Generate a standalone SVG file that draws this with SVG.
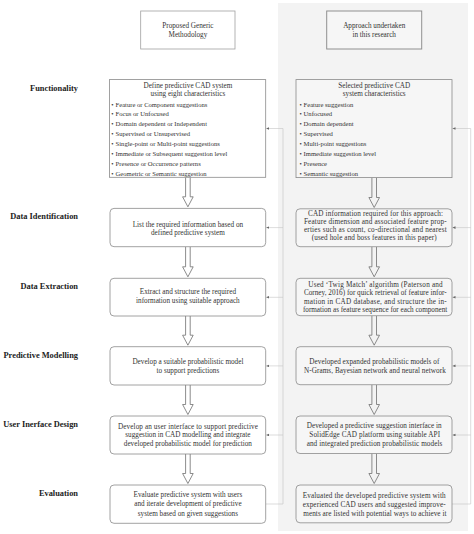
<svg xmlns="http://www.w3.org/2000/svg" width="474" height="534" viewBox="0 0 474 534">
<style>
.bg{fill:#ffffff}
.panel{fill:#f3f3f3}
.box{fill:#ffffff;stroke:#8a8a8a;stroke-width:0.8}
.rbox{fill:#f6f6f6;stroke:#8a8a8a;stroke-width:0.8}
.hbox{fill:#ffffff;stroke:#a0a0a0;stroke-width:0.8}
.rhbox{fill:#f6f6f6;stroke:#909090;stroke-width:1}
.t{font-family:"Liberation Serif","Times New Roman",serif;font-size:7.2px;fill:#333;text-anchor:middle}
.b{font-family:"Liberation Serif","Times New Roman",serif;font-size:6.6px;fill:#333}
.lab{font-family:"Liberation Serif","Times New Roman",serif;font-size:8.4px;font-weight:bold;fill:#222;text-anchor:end}
.dbl{fill:none;stroke:#6f6f6f;stroke-width:0.8;stroke-linejoin:miter}
.fb{fill:none;stroke:#c4c4c4;stroke-width:0.6}
.fba{fill:none;stroke:#c4c4c4;stroke-width:0.6;marker-end:url(#ah)}
</style>
<defs>
<marker id="ah" markerUnits="userSpaceOnUse" markerWidth="4" markerHeight="4" refX="3" refY="1.3" orient="auto">
<path d="M0,0 L3,1.3 L0,2.6 Z" fill="#666"/>
</marker>
</defs>
<rect class="bg" x="0" y="0" width="474" height="534"/>
<rect class="panel" x="278" y="3" width="190" height="528"/>

<g id="header-left">
<rect class="hbox" x="140.7" y="11" width="94.3" height="38"/>
<text class="t" x="187.9" y="27.5">Proposed Generic</text>
<text class="t" x="187.9" y="36.5">Methodology</text>
</g>
<g id="header-right">
<rect class="rhbox" x="326.7" y="11" width="95" height="38"/>
<text class="t" x="374.2" y="27.5">Approach undertaken</text>
<text class="t" x="374.2" y="36.5">in this research</text>
</g>

<g id="row-labels">
<text class="lab" x="78" y="91.2">Functionality</text>
<text class="lab" x="78" y="219">Data Identification</text>
<text class="lab" x="78" y="288.7">Data Extraction</text>
<text class="lab" x="78" y="358">Predictive Modelling</text>
<text class="lab" x="78" y="427.3">User Inerface Design</text>
<text class="lab" x="78" y="496.3">Evaluation</text>
</g>

<g id="connectors">
<!-- hollow double arrows, left column -->
<path class="dbl" d="M185.6,177.3 V196.8 H182.6 L187.9,206.8 L193.2,196.8 H190.2 V177.3"/>
<path class="dbl" d="M185.6,246.7 V266.8 H182.6 L187.9,276.8 L193.2,266.8 H190.2 V246.7"/>
<path class="dbl" d="M185.6,316 V335.2 H182.6 L187.9,345.2 L193.2,335.2 H190.2 V316"/>
<path class="dbl" d="M185.6,385 V404.5 H182.6 L187.9,414.5 L193.2,404.5 H190.2 V385"/>
<path class="dbl" d="M185.6,454 V473.5 H182.6 L187.9,483.5 L193.2,473.5 H190.2 V454"/>
<!-- hollow double arrows, right column -->
<path class="dbl" d="M371.9,177.7 V197.5 H368.9 L374.2,207.5 L379.5,197.5 H376.5 V177.7"/>
<path class="dbl" d="M371.9,246.7 V266.8 H368.9 L374.2,276.8 L379.5,266.8 H376.5 V246.7"/>
<path class="dbl" d="M371.9,315.7 V335.2 H368.9 L374.2,345.2 L379.5,335.2 H376.5 V315.7"/>
<path class="dbl" d="M371.9,384.7 V404.5 H368.9 L374.2,414.5 L379.5,404.5 H376.5 V384.7"/>
<path class="dbl" d="M371.9,453.5 V473.5 H368.9 L374.2,483.5 L379.5,473.5 H376.5 V453.5"/>
<!-- feedback loop, left column -->
<path class="fb" d="M265.7,504 H283 V128.5"/>
<line class="fba" x1="283" y1="128.5" x2="266.2" y2="128.5"/>
<line class="fba" x1="283" y1="227.6" x2="266.2" y2="227.6"/>
<line class="fba" x1="283" y1="297.3" x2="266.2" y2="297.3"/>
<line class="fba" x1="283" y1="365.9" x2="266.2" y2="365.9"/>
<line class="fba" x1="283" y1="435" x2="266.2" y2="435"/>
<!-- feedback loop, right column -->
<path class="fb" d="M452,504 H470.7 V128.5"/>
<line class="fba" x1="470.7" y1="128.5" x2="452.5" y2="128.5"/>
<line class="fba" x1="470.7" y1="227.6" x2="452.5" y2="227.6"/>
<line class="fba" x1="470.7" y1="297.3" x2="452.5" y2="297.3"/>
<line class="fba" x1="470.7" y1="365.9" x2="452.5" y2="365.9"/>
<line class="fba" x1="470.7" y1="435" x2="452.5" y2="435"/>
</g>

<g id="left-functionality">
<rect class="box" x="109.5" y="79.6" width="156.2" height="97.7"/>
<text class="t" x="187.9" y="87.6">Define predictive CAD system</text>
<text class="t" x="187.9" y="95.9">using eight characteristics</text>
<text class="b"><tspan x="111.3" y="106.5">•</tspan><tspan x="115.6">Feature or Component suggestions</tspan></text>
<text class="b"><tspan x="111.3" y="116.4">•</tspan><tspan x="115.6">Focus or Unfocused</tspan></text>
<text class="b"><tspan x="111.3" y="126.3">•</tspan><tspan x="115.6">Domain dependent or Independent</tspan></text>
<text class="b"><tspan x="111.3" y="136.2">•</tspan><tspan x="115.6">Supervised or Unsupervised</tspan></text>
<text class="b"><tspan x="111.3" y="146.1">•</tspan><tspan x="115.6">Single-point or Multi-point suggestions</tspan></text>
<text class="b"><tspan x="111.3" y="156">•</tspan><tspan x="115.6">Immediate or Subsequent suggestion level</tspan></text>
<text class="b"><tspan x="111.3" y="165.9">•</tspan><tspan x="115.6">Presence or Occurrence patterns</tspan></text>
<text class="b"><tspan x="111.3" y="175.7">•</tspan><tspan x="115.6">Geometric or Semantic suggestion</tspan></text>
</g>

<g id="right-functionality">
<rect class="rbox" x="296" y="79.6" width="156" height="98"/>
<text class="t" x="374.2" y="87.6">Selected predictive CAD</text>
<text class="t" x="374.2" y="95.9">system characteristics</text>
<text class="b"><tspan x="299.6" y="106.5">•</tspan><tspan x="303.6">Feature suggestion</tspan></text>
<text class="b"><tspan x="299.6" y="116.4">•</tspan><tspan x="303.6">Unfocused</tspan></text>
<text class="b"><tspan x="299.6" y="126.3">•</tspan><tspan x="303.6">Domain dependent</tspan></text>
<text class="b"><tspan x="299.6" y="136.2">•</tspan><tspan x="303.6">Supervised</tspan></text>
<text class="b"><tspan x="299.6" y="146.1">•</tspan><tspan x="303.6">Multi-point suggestions</tspan></text>
<text class="b"><tspan x="299.6" y="156">•</tspan><tspan x="303.6">Immediate suggestion level</tspan></text>
<text class="b"><tspan x="299.6" y="165.9">•</tspan><tspan x="303.6">Presence</tspan></text>
<text class="b"><tspan x="299.6" y="175.7">•</tspan><tspan x="303.6">Semantic suggestion</tspan></text>
</g>

<g id="left-data-identification">
<rect class="box" x="110" y="208.4" width="155.7" height="38.3" rx="4"/>
<text class="t" x="187.9" y="226.5">List the required information based on</text>
<text class="t" x="187.9" y="234.8">defined predictive system</text>
</g>
<g id="left-data-extraction">
<rect class="box" x="110" y="278.3" width="155.7" height="37.7" rx="4"/>
<text class="t" x="187.9" y="293.5">Extract and structure the required</text>
<text class="t" x="187.9" y="302.5">information using suitable approach</text>
</g>
<g id="left-predictive-modelling">
<rect class="box" x="110" y="346.7" width="155.7" height="38.3" rx="4"/>
<text class="t" x="187.9" y="364.2">Develop a suitable probabilistic model</text>
<text class="t" x="187.9" y="373.2">to support predictions</text>
</g>
<g id="left-ui-design">
<rect class="box" x="110" y="416" width="155.7" height="38" rx="4"/>
<text class="t" x="187.9" y="428.5" textLength="140" lengthAdjust="spacing">Develop an user interface to support predictive</text>
<text class="t" x="187.9" y="437.2">suggestion in CAD modelling and integrate</text>
<text class="t" x="187.9" y="446.2">developed probabilistic model for prediction</text>
</g>
<g id="left-evaluation">
<rect class="box" x="110" y="485" width="155.7" height="38.3" rx="4"/>
<text class="t" x="187.9" y="496.8">Evaluate predictive system with users</text>
<text class="t" x="187.9" y="506.2">and iterate development of predictive</text>
<text class="t" x="187.9" y="515.5">system based on given suggestions</text>
</g>

<g id="right-data-identification">
<rect class="rbox" x="296" y="208.8" width="156" height="37.9" rx="4"/>
<text class="t" x="375.5" y="215.9" textLength="135" lengthAdjust="spacing">CAD information required for this approach:</text>
<text class="t" x="375.3" y="224" textLength="142.7" lengthAdjust="spacing">Feature dimension and associated feature prop-</text>
<text class="t" x="375.3" y="232.1" textLength="142.7" lengthAdjust="spacing">erties such as count, co-directional and nearest</text>
<text class="t" x="374.2" y="240.2" textLength="125" lengthAdjust="spacing">(used hole and boss features in this paper)</text>
</g>
<g id="right-data-extraction">
<rect class="rbox" x="296" y="278.3" width="156" height="37.4" rx="4"/>
<text class="t" x="375.5" y="286.9" textLength="134.4" lengthAdjust="spacing">Used ‘Twig Match’ algorithm (Paterson and</text>
<text class="t" x="375.3" y="295.2" textLength="142.7" lengthAdjust="spacing">Corney, 2016) for quick retrieval of feature infor-</text>
<text class="t" x="375.3" y="303.5" textLength="142.7" lengthAdjust="spacing">mation in CAD database, and structure the in-</text>
<text class="t" x="375.1" y="311.8" textLength="144.3" lengthAdjust="spacing">formation as feature sequence for each component</text>
</g>
<g id="right-predictive-modelling">
<rect class="rbox" x="296" y="346.7" width="156" height="38" rx="4"/>
<text class="t" x="374.3" y="363.5" textLength="130" lengthAdjust="spacing">Developed expanded probabilistic models of</text>
<text class="t" x="374.9" y="373.2" textLength="141.7" lengthAdjust="spacing">N-Grams, Bayesian network and neural network</text>
</g>
<g id="right-ui-design">
<rect class="rbox" x="296" y="416" width="156" height="37.5" rx="4"/>
<text class="t" x="374.2" y="427.5" textLength="135" lengthAdjust="spacing">Developed a predictive suggestion interface in</text>
<text class="t" x="374.7" y="436.8" textLength="130.7" lengthAdjust="spacing">SolidEdge CAD platform using suitable API</text>
<text class="t" x="374.5" y="446.2" textLength="135.7" lengthAdjust="spacing">and integrated prediction probabilistic models</text>
</g>
<g id="right-evaluation">
<rect class="rbox" x="296" y="485" width="156" height="37.8" rx="4"/>
<text class="t" x="374.2" y="497.5" textLength="143" lengthAdjust="spacing">Evaluated the developed predictive system with</text>
<text class="t" x="374.2" y="506.8" textLength="143" lengthAdjust="spacing">experienced CAD users and suggested improve-</text>
<text class="t" x="374.9" y="516.2" textLength="143.3" lengthAdjust="spacing">ments are listed with potential ways to achieve it</text>
</g>
</svg>
